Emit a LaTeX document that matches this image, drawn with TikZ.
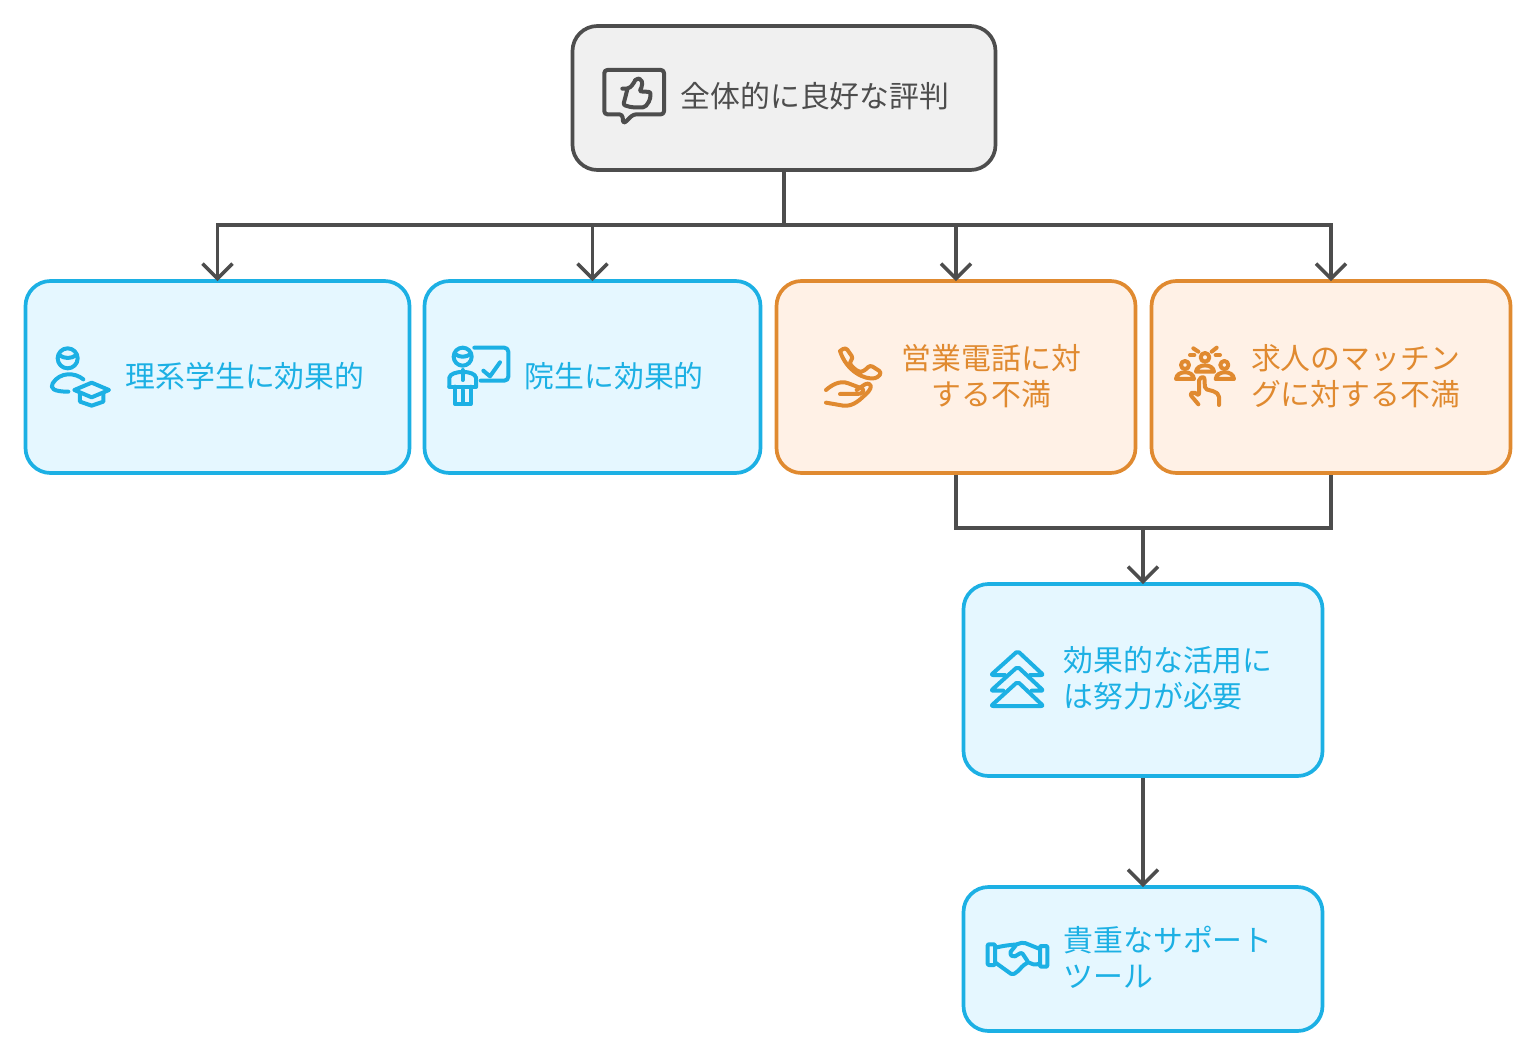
\documentclass[tikz,border=0pt]{standalone}
\usepackage{fontspec}
\setmainfont{Noto Sans CJK JP}
\usetikzlibrary{arrows.meta}
\definecolor{gk}{HTML}{4D4D4D}
\definecolor{gf}{HTML}{F0F0F0}
\definecolor{bk}{HTML}{1CB0E4}
\definecolor{bf}{HTML}{E5F7FF}
\definecolor{ok}{HTML}{E08A30}
\definecolor{of}{HTML}{FFF1E6}
\tikzset{
  x=1pt,y=-1pt,
  box/.style={draw,rounded corners=25pt,line width=3.7pt,inner sep=0pt,anchor=center},
  graybox/.style={box,draw=gk,fill=gf},
  bluebox/.style={box,draw=bk,fill=bf},
  orangebox/.style={box,draw=ok,fill=of},
  label/.style={inner sep=0pt,font=\fontsize{29.85}{36}\selectfont},
  link/.style={draw=gk,line width=3.5pt},
  arrowlink/.style={link,shorten >=-2pt,-{Straight Barb[length=15pt,width=30pt,line width=3.5pt]}},
  iconline/.style={x=0.3333pt,y=-0.3333pt,line width=4pt,line cap=round,line join=round},
}
\begin{document}
\begin{tikzpicture}
\useasboundingbox (0,0) rectangle (1536,1057);
\node[graybox,minimum width=423pt,minimum height=144pt] (top) at (784,98) {};
\node[bluebox,minimum width=384pt,minimum height=192pt] (b1) at (217.5,377) {};
\node[bluebox,minimum width=336pt,minimum height=192pt] (b2) at (592.5,377) {};
\node[orangebox,minimum width=359pt,minimum height=192pt] (b3) at (956,377) {};
\node[orangebox,minimum width=359pt,minimum height=192pt] (b4) at (1331,377) {};
\node[bluebox,minimum width=359pt,minimum height=192pt] (b5) at (1143,680) {};
\node[bluebox,minimum width=359pt,minimum height=144pt] (b6) at (1143,959) {};
% labels
\node[label,text=gk,anchor=west] (t0) at (680.5,96.5) {全体的に良好な評判};
\node[label,text=bk,anchor=west] (t1) at (125.5,376) {理系学生に効果的};
\node[label,text=bk,anchor=west] (t2) at (524.5,376) {院生に効果的};
\node[label,text=ok,align=center] (t3) at (991.5,376) {営業電話に対\\する不満};
\node[label,text=ok,align=center] (t4) at (1355.5,376) {求人のマッチン\\グに対する不満};
\node[label,text=bk,align=left,anchor=west] (t5) at (1063.5,678.5) {効果的な活用に\\は努力が必要};
\node[label,text=bk,align=left,anchor=west] (t6) at (1063.5,957.5) {貴重なサポート\\ツール};
% connectors
\coordinate (hub) at (784,225);
\coordinate (join) at (1143,528);
\draw[link] (top.south) -- (hub);
\draw[arrowlink] (hub) -| (b1.north);
\draw[arrowlink] (hub) -| (b2.north);
\draw[arrowlink] (hub) -| (b3.north);
\draw[arrowlink] (hub) -| (b4.north);
\draw[link] (b3.south) |- (join);
\draw[link] (b4.south) |- (join);
\draw[arrowlink] (join) -- (b5.north);
\draw[arrowlink] (b5.south) -- (b6.north);
% icon: thumb in speech bubble
\begin{scope}[shift={(590,50)},iconline,draw=gk]
\draw[rounded corners=3pt] (130,193) -- (222,193) -- (222,60) -- (43,60) -- (43,193) -- (97,193) -- (100,222) -- cycle;
\draw[rounded corners=2pt] (97,116) -- (116,116) -- (130,102) -- (138,85) -- (155,88) -- (157,108) -- (148,124) -- (182,126) -- (180,150) -- (165,172) -- (125,172) -- (100,165) -- (112,118);
\end{scope}
% icon: student with cap
\begin{scope}[shift={(40,335)},iconline,draw=bk]
\draw (83,70) circle[radius=30];
\draw (57,60) .. controls (75,72) and (92,72) .. (110,60);
\draw (130,133) .. controls (105,112) and (60,110) .. (38,145) .. controls (30,160) and (40,170) .. (85,170);
\draw (103,165) -- (155,143) -- (207,165) -- (155,187) -- cycle;
\draw (120,175) -- (120,200) -- (155,212) -- (190,200) -- (190,175);
\end{scope}
% icon: presenter with check board
\begin{scope}[shift={(440,335)},iconline,draw=bk]
\draw (68,65) circle[radius=27];
\draw (45,57) .. controls (60,68) and (76,68) .. (92,57);
\draw[rounded corners=4pt] (103,38) -- (205,38) -- (205,137) -- (122,137);
\draw (130,107) -- (150,124) -- (180,82);
\draw (28,155) -- (28,128) .. controls (32,105) and (105,105) .. (108,128) -- (108,155);
\draw (68,105) -- (68,135);
\draw (28,155) -- (108,155);
\draw (45,155) -- (45,207) -- (92,207) -- (92,155);
\draw (68,165) -- (68,207);
\end{scope}
% icon: phone above hand
\begin{scope}[shift={(815,335)},iconline,draw=ok]
\draw[rounded corners=3pt] (75,48) -- (92,37) -- (115,70) -- (102,82) .. controls (115,100) and (130,112) .. (148,108) -- (165,90) -- (200,112) -- (188,128) .. controls (150,135) and (95,110) .. (75,48);
\draw (33,165) .. controls (50,150) and (75,135) .. (100,145) -- (140,160) .. controls (150,165) and (145,178) .. (125,177) -- (75,177);
\draw (125,165) -- (150,148) .. controls (170,140) and (172,158) .. (160,170) .. controls (135,195) and (115,215) .. (85,212) -- (33,203);
\end{scope}
% icon: people and pointing hand
\begin{scope}[shift={(1165,335)},iconline,draw=ok]
\draw (120,67) circle[radius=13];
\draw (60,90) circle[radius=12];
\draw (178,90) circle[radius=12];
\draw (93,110) .. controls (95,85) and (145,85) .. (147,110) -- cycle;
\draw (33,132) .. controls (35,105) and (85,105) .. (87,132) -- cycle;
\draw (152,132) .. controls (155,105) and (205,105) .. (207,132) -- cycle;
\draw (85,40) -- (100,50);
\draw (155,38) -- (140,50);
\draw (75,60) -- (88,60);
\draw (165,60) -- (152,60);
\draw[rounded corners=2pt] (100,208) -- (75,178) -- (85,170) -- (102,182) -- (102,130) -- (118,125) -- (120,162) -- (150,170) -- (162,180) -- (162,210);
\end{scope}
% icon: stacked chevrons
\begin{scope}[shift={(980,640)},iconline,draw=bk]
\draw[rounded corners=2pt] (150,105) -- (190,105) -- (113,33) -- (33,105) -- (75,105);
\draw[rounded corners=2pt] (155,152) -- (190,152) -- (113,80) -- (33,152) -- (70,152);
\draw[rounded corners=2pt] (113,125) -- (190,198) -- (33,198) -- cycle;
\end{scope}
% icon: handshake
\begin{scope}[shift={(980,925)},iconline,draw=bk]
\draw[rounded corners=1pt] (23,58) -- (45,58) -- (45,120) -- (23,120) -- cycle;
\draw[rounded corners=1pt] (180,63) -- (202,63) -- (202,125) -- (180,125) -- cycle;
\draw[rounded corners=2pt] (45,68) -- (75,62) -- (110,58) -- (88,85) -- (100,97) -- (125,82) -- (145,112) -- (128,122) -- (118,135) -- (98,150) -- (45,112);
\draw[rounded corners=2pt] (110,58) -- (130,52) -- (180,72);
\draw[rounded corners=2pt] (145,112) -- (165,120) -- (180,115);
\end{scope}
\end{tikzpicture}
\end{document}
